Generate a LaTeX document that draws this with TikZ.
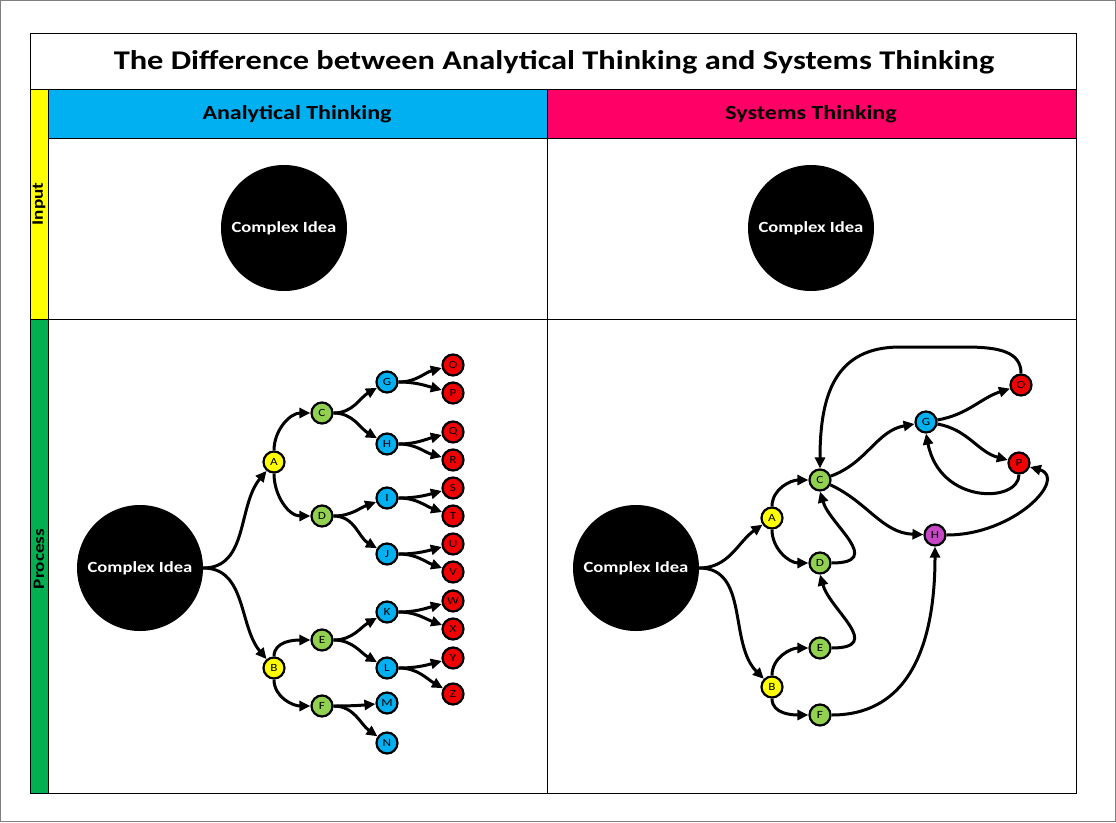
\documentclass[tikz,border=0pt]{standalone}
\usepackage{fontspec}
\setmainfont[FakeStretch=1.2]{Carlito}
\usetikzlibrary{arrows.meta}
\definecolor{hblue}{HTML}{00B0F0}
\definecolor{hpink}{HTML}{FF0066}
\definecolor{syellow}{HTML}{FFFF00}
\definecolor{sgreen}{HTML}{00B050}
\definecolor{nyellow}{HTML}{FFFF00}
\definecolor{ngreen}{HTML}{92D050}
\definecolor{nblue}{HTML}{00B0F0}
\definecolor{nred}{HTML}{F00000}
\definecolor{npurple}{HTML}{C646C6}
\definecolor{frame}{HTML}{7F7F7F}
\tikzset{
  cell/.style={draw=black, line width=0.9pt},
  big/.style={circle, fill=black, minimum size=126pt, inner sep=0pt, text=white, font=\fontsize{15.5}{18}\selectfont\bfseries},
  sm/.style={circle, draw=black, line width=2.2pt, minimum size=21pt, inner sep=0pt, font=\fontsize{11}{12}\selectfont},
  ny/.style={sm, fill=nyellow},
  ng/.style={sm, fill=ngreen},
  nb/.style={sm, fill=nblue},
  nr/.style={sm, fill=nred},
  np/.style={sm, fill=npurple},
  arr/.style={line width=3pt, line join=round, -{Triangle[length=11pt,width=10pt]}},
  hdr/.style={font=\fontsize{20}{24}\selectfont\bfseries, text=black},
  side/.style={rotate=90, font=\fontsize{16}{18}\selectfont\bfseries, text=black}
}
\begin{document}
\begin{tikzpicture}[x=1pt,y=1pt]
\useasboundingbox (0,0) rectangle (1116,-822);
\draw[frame, line width=1pt] (0.5,-0.5) rectangle (1115.5,-821.5);
% table
\draw[cell] (30,-33) rectangle (1076,-89);
\fill[syellow] (30,-89) rectangle (48,-319);
\fill[sgreen] (30,-319) rectangle (48,-793);
\fill[hblue] (48,-89) rectangle (547,-138);
\fill[hpink] (547,-89) rectangle (1076,-138);
\draw[cell] (30,-89) rectangle (48,-319);
\draw[cell] (30,-319) rectangle (48,-793);
\draw[cell] (48,-89) rectangle (547,-138);
\draw[cell] (547,-89) rectangle (1076,-138);
\draw[cell] (48,-138) rectangle (547,-319);
\draw[cell] (547,-138) rectangle (1076,-319);
\draw[cell] (48,-319) rectangle (547,-793);
\draw[cell] (547,-319) rectangle (1076,-793);
\node[font=\fontsize{27}{32}\selectfont\bfseries] (title) at (554,-62) {The Difference between Analytical Thinking and Systems Thinking};
\node[hdr] (hA) at (297,-114) {Analytical Thinking};
\node[hdr] (hS) at (811,-114) {Systems Thinking};
\node[side] (lin) at (39,-204) {Input};
\node[side] (lpr) at (39,-559) {Process};
% input
\node[big] (inA) at (284,-228) {Complex Idea};
\node[big] (inS) at (811,-228) {Complex Idea};
% ---------------- analytical tree
\node[big] (aBig) at (140,-568) {Complex Idea};
\node[ny] (aA) at (274,-462) {A};
\node[ny] (aB) at (274,-668) {B};
\node[ng] (aC) at (322,-413) {C};
\node[ng] (aD) at (322,-516) {D};
\node[ng] (aE) at (322,-640) {E};
\node[ng] (aF) at (322,-706) {F};
\node[nb] (aG) at (387,-382) {G};
\node[nb] (aH) at (387,-444) {H};
\node[nb] (aI) at (387,-498) {I};
\node[nb] (aJ) at (387,-554) {J};
\node[nb] (aK) at (387,-612) {K};
\node[nb] (aL) at (387,-668) {L};
\node[nb] (aM) at (387,-703) {M};
\node[nb] (aN) at (387,-743) {N};
\node[nr] (aO) at (453,-365) {O};
\node[nr] (aP) at (453,-393) {P};
\node[nr] (aQ) at (453,-432) {Q};
\node[nr] (aR) at (453,-460) {R};
\node[nr] (aS) at (453,-488) {S};
\node[nr] (aT) at (453,-516) {T};
\node[nr] (aU) at (453,-544) {U};
\node[nr] (aV) at (453,-572) {V};
\node[nr] (aW) at (453,-601) {W};
\node[nr] (aX) at (453,-629) {X};
\node[nr] (aY) at (453,-658) {Y};
\node[nr] (aZ) at (453,-694) {Z};
\draw[arr] (aBig) to[out=0,in=230] (aA);
\draw[arr] (aBig) to[out=0,in=130] (aB);
\draw[arr] (aA) to[out=90,in=180] (aC);
\draw[arr] (aA) to[out=-90,in=180] (aD);
\draw[arr] (aB) to[out=90,in=180] (aE);
\draw[arr] (aB) to[out=-90,in=180] (aF);
\draw[arr] (aC) to[out=0,in=210] (aG);
\draw[arr] (aC) to[out=0,in=150] (aH);
\draw[arr] (aD) to[out=0,in=200] (aI);
\draw[arr] (aD) to[out=0,in=150] (aJ);
\draw[arr] (aE) to[out=0,in=210] (aK);
\draw[arr] (aE) to[out=0,in=150] (aL);
\draw[arr] (aF) to[out=0,in=185] (aM);
\draw[arr] (aF) to[out=0,in=145] (aN);
\draw[arr] (aG) to[out=0,in=195] (aO);
\draw[arr] (aG) to[out=0,in=165] (aP);
\draw[arr] (aH) to[out=0,in=195] (aQ);
\draw[arr] (aH) to[out=0,in=165] (aR);
\draw[arr] (aI) to[out=0,in=195] (aS);
\draw[arr] (aI) to[out=0,in=160] (aT);
\draw[arr] (aJ) to[out=0,in=195] (aU);
\draw[arr] (aJ) to[out=0,in=160] (aV);
\draw[arr] (aK) to[out=0,in=195] (aW);
\draw[arr] (aK) to[out=0,in=160] (aX);
\draw[arr] (aL) to[out=0,in=195] (aY);
\draw[arr] (aL) to[out=0,in=150] (aZ);
% ---------------- systems graph
\node[big] (sBig) at (636,-568) {Complex Idea};
\node[ny] (sA) at (772,-518) {A};
\node[ny] (sB) at (772,-687) {B};
\node[ng] (sC) at (820,-480) {C};
\node[ng] (sD) at (820,-563) {D};
\node[ng] (sE) at (820,-648) {E};
\node[ng] (sF) at (820,-715) {F};
\node[nb] (sG) at (926,-422) {G};
\node[np] (sH) at (935,-535) {H};
\node[nr] (sO) at (1021,-385) {O};
\node[nr] (sP) at (1019,-463) {P};
\draw[arr] (sBig) to[out=0,in=215] (sA);
\draw[arr] (sBig) to[out=0,in=135] (sB);
\draw[arr] (sA) to[out=90,in=180] (sC);
\draw[arr] (sA) to[out=-90,in=180] (sD);
\draw[arr] (sB) to[out=90,in=180] (sE);
\draw[arr] (sB) to[out=-90,in=180] (sF);
\draw[arr] (sC) to[out=20,in=190] (sG);
\draw[arr] (sC) to[out=-25,in=178] (sH);
\draw[arr] (sD.east) .. controls (885,-563) and (830,-525) .. (sC.south);
\draw[arr] (sE.east) .. controls (885,-648) and (830,-610) .. (sD.south);
\draw[arr] (sF) to[out=0,in=-90,looseness=1.1] (sH);
\draw[arr] (sG) to[out=10,in=198] (sO);
\draw[arr] (sG) to[out=-10,in=165] (sP);
\draw[arr] (sP.south) .. controls (1019,-503) and (940,-505) .. (sG.south);
\draw[arr] (sO.north) .. controls (1021,-352) and (1000,-347) .. (965,-347) -- (900,-347) .. controls (835,-347) and (820,-395) .. (sC.north);
\draw[arr] (sH.east) .. controls (1015,-535) and (1068,-478) .. (sP.-20);
\end{tikzpicture}
\end{document}
